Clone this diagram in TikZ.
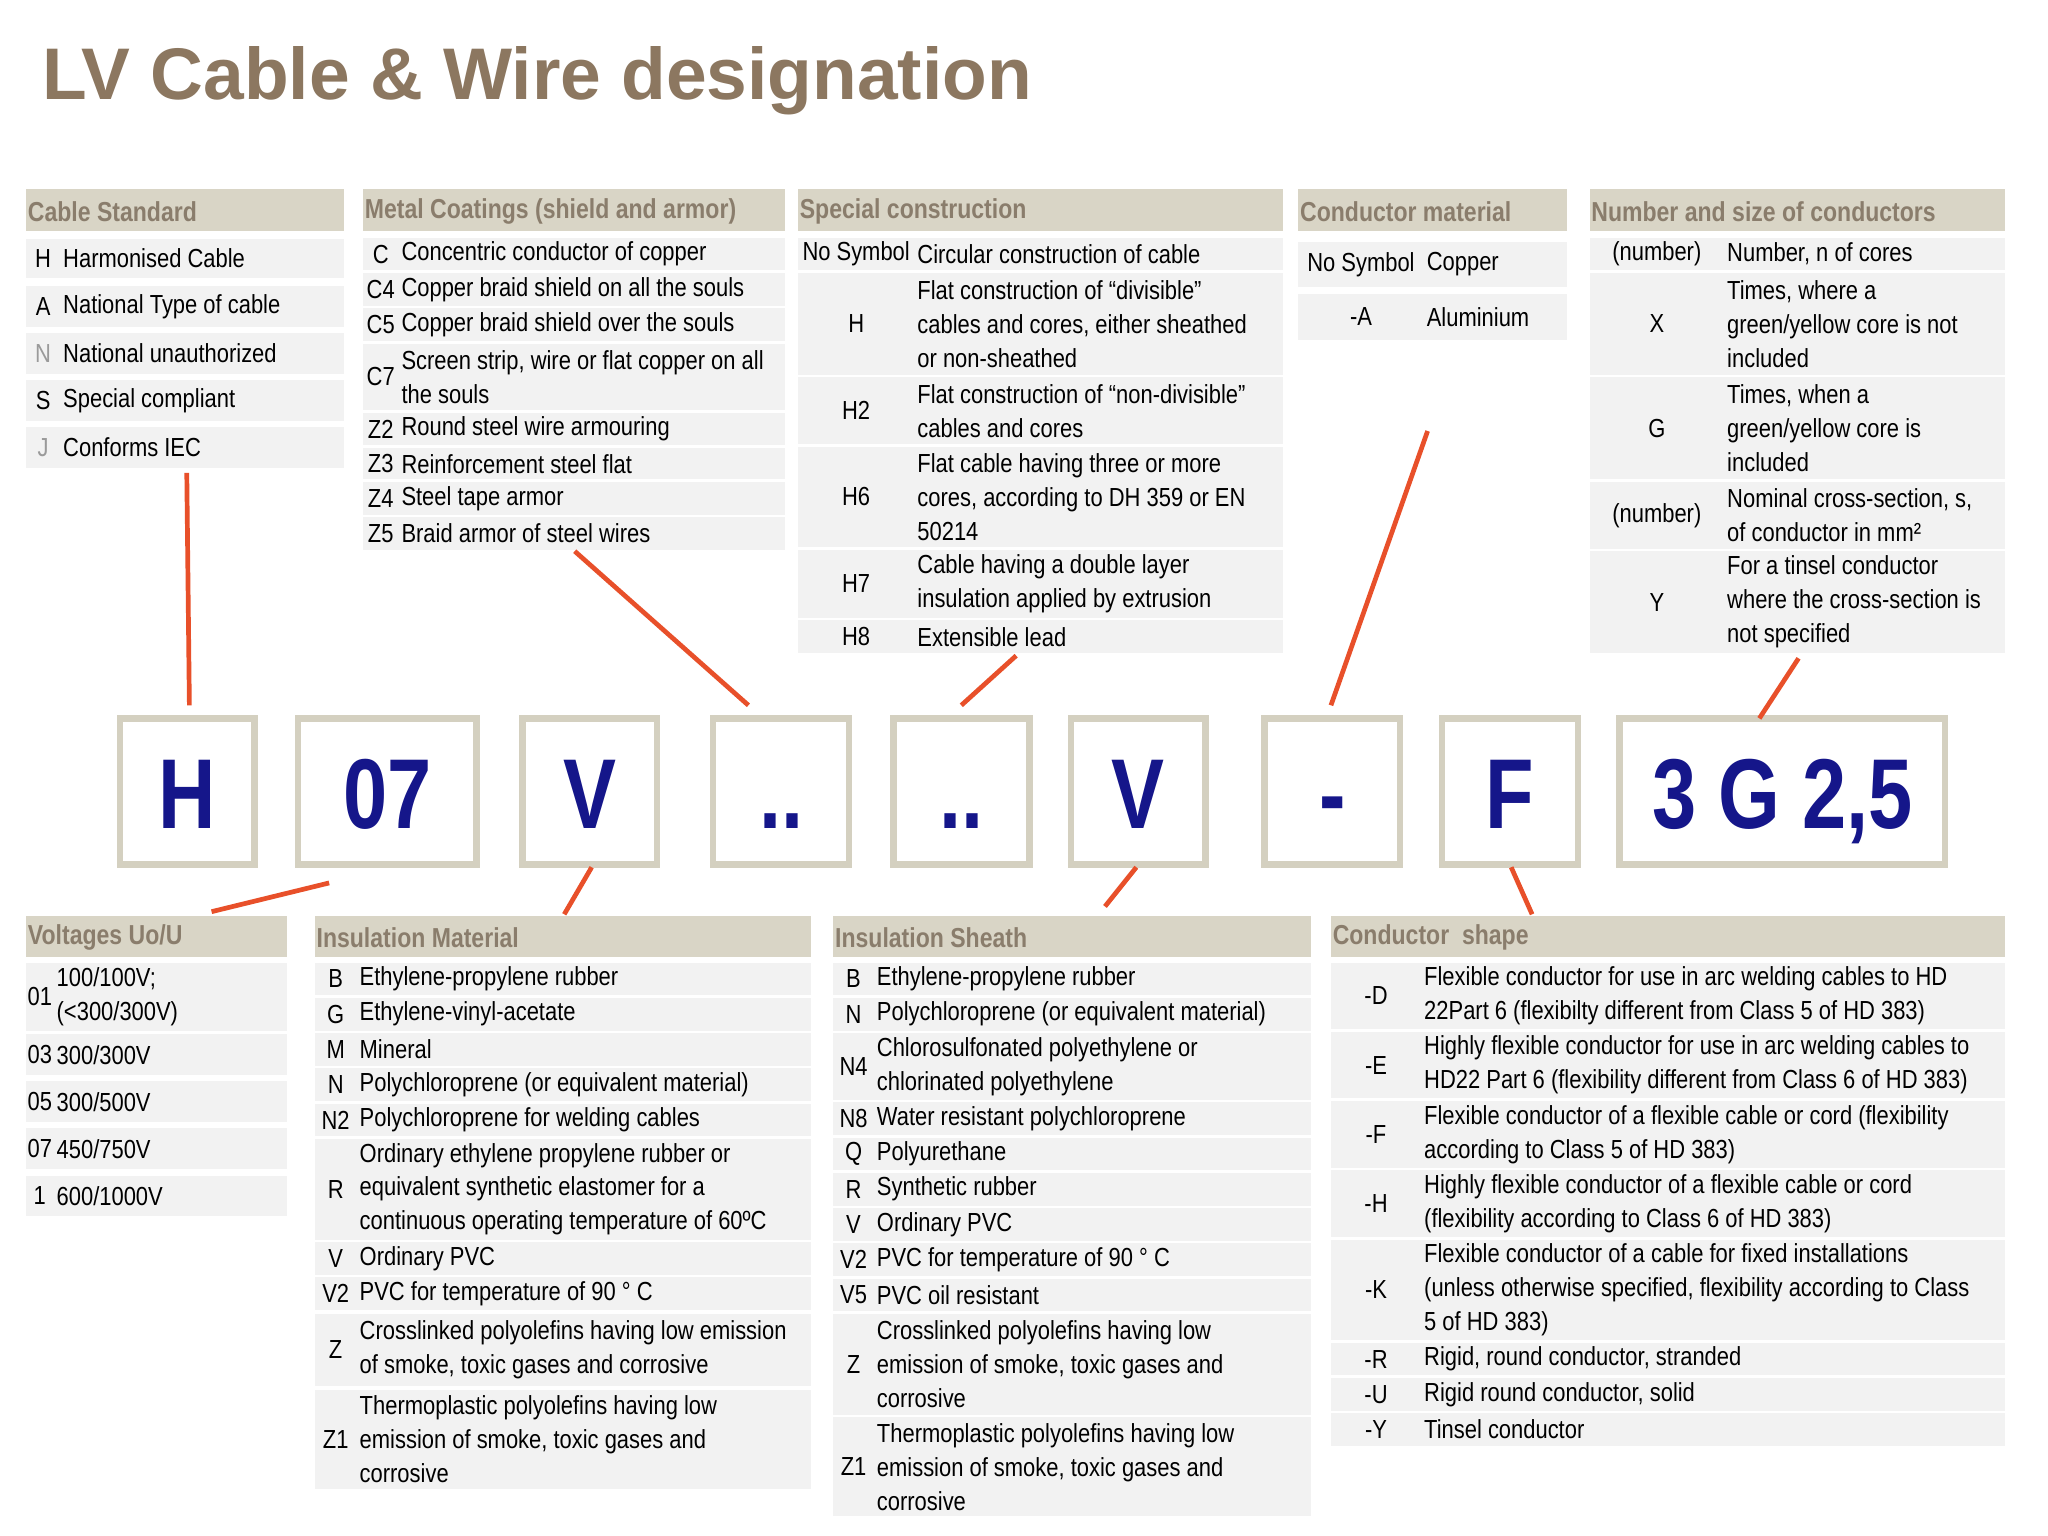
\documentclass[tikz,border=0pt]{standalone}
\usepackage{fontspec}
\setmainfont{Liberation Sans}[FakeStretch=0.84]
\newfontfamily\titlefont{Liberation Sans}
\newfontfamily\bigfont{Liberation Sans}[FakeStretch=0.8]
\hyphenpenalty=10000 \exhyphenpenalty=10000
\definecolor{hdr}{HTML}{D9D5C6}
\definecolor{hdrtxt}{HTML}{8A7D6C}
\definecolor{rowc}{HTML}{F2F2F2}
\definecolor{ttl}{HTML}{8C7760}
\definecolor{navy}{HTML}{15168A}
\definecolor{boxb}{HTML}{D4D0C0}
\definecolor{ln}{HTML}{E8502A}
\definecolor{gr}{HTML}{9A9A9A}
\tikzset{
 codet/.style={inner sep=0pt,font=\fontsize{10}{13}\selectfont,align=center},
 desc/.style={inner sep=0pt,anchor=west,font=\fontsize{10}{13}\selectfont,align=left},
 hdrt/.style={inner sep=0pt,anchor=west,font=\fontsize{10.5}{13}\selectfont\bfseries,text=hdrtxt},
 cbox/.style={draw=boxb,line width=2.5pt,fill=white,inner sep=0pt,text=navy,text height=34pt,text depth=6pt,font=\bigfont\fontsize{38}{40}\selectfont\bfseries},
 conn/.style={draw=ln,line width=1.8pt}
}
\newcommand\trow[7]{%
 \fill[rowc] (#1,#4) rectangle (#3,#5);
 \node[codet] at ({(#1+#2)/2},{(#4+#5)/2}) {#6};
 \node[desc] at (#2+2,{(#4+#5)/2}) {#7};}
\newcommand\thdr[4]{%
 \fill[hdr] (#1,145) rectangle (#2,177);
 \node[hdrt] at (#1+1,162) {#3};}
\newcommand\bhdr[3]{%
 \fill[hdr] (#1,701) rectangle (#2,733);
 \node[hdrt] at (#1+1,718) {#3};}
\begin{document}
\begin{tikzpicture}[x=0.5pt,y=-0.5pt]
\useasboundingbox (0,0) rectangle (1568,1176);
\fill[white] (0,0) rectangle (1568,1176);
\node[anchor=base west,inner sep=0pt,text=ttl,font=\titlefont\fontsize{28}{30}\selectfont\bfseries] (title) at (32,76) {LV Cable \& Wire designation};
% Cable standard
\thdr{20}{263}{Cable Standard}{}
\trow{20}{46}{263}{183}{213}{H}{Harmonised Cable}
\trow{20}{46}{263}{219}{250}{A}{National Type of cable}
\trow{20}{46}{263}{255}{286}{\color{gr}N}{National unauthorized}
\trow{20}{46}{263}{291}{322}{S}{Special compliant}
\trow{20}{46}{263}{327}{358}{\color{gr}J}{Conforms IEC}
% Metal coatings
\thdr{278}{601}{Metal Coatings (shield and armor)}{}
\trow{278}{305}{601}{182}{207}{C}{Concentric conductor of copper}
\trow{278}{305}{601}{209}{234}{C4}{Copper braid shield on all the souls}
\trow{278}{305}{601}{236}{261}{C5}{Copper braid shield over the souls}
\trow{278}{305}{601}{263}{314}{C7}{Screen strip, wire or flat copper on all\\the souls}
\trow{278}{305}{601}{316}{341}{Z2}{Round steel wire armouring}
\trow{278}{305}{601}{343}{367}{Z3}{Reinforcement steel flat}
\trow{278}{305}{601}{369}{394}{Z4}{Steel tape armor}
\trow{278}{305}{601}{396}{421}{Z5}{Braid armor of steel wires}
% Special construction
\thdr{611}{982}{Special construction}{}
\trow{611}{700}{982}{182}{207}{No Symbol}{Circular construction of cable}
\trow{611}{700}{982}{209}{287}{H}{Flat construction of “divisible”\\cables and cores, either sheathed\\or non-sheathed}
\trow{611}{700}{982}{289}{340}{H2}{Flat construction of “non-divisible”\\cables and cores}
\trow{611}{700}{982}{342}{419}{H6}{Flat cable having three or more\\cores, according to DH 359 or EN\\50214}
\trow{611}{700}{982}{421}{473}{H7}{Cable having a double layer\\insulation applied by extrusion}
\trow{611}{700}{982}{475}{500}{H8}{Extensible lead}
% Conductor material
\thdr{994}{1200}{Conductor material}{}
\trow{994}{1090}{1200}{185}{220}{No Symbol}{Copper}
\trow{994}{1090}{1200}{225}{260}{-A}{Aluminium}
% Number and size
\thdr{1217}{1535}{Number and size of conductors}{}
\trow{1217}{1320}{1535}{182}{207}{(number)}{Number, n of cores}
\trow{1217}{1320}{1535}{209}{287}{X}{Times, where a\\green/yellow core is not\\included}
\trow{1217}{1320}{1535}{289}{367}{G}{Times, when a\\green/yellow core is\\included}
\trow{1217}{1320}{1535}{369}{420}{(number)}{Nominal cross-section, s,\\of conductor in mm²}
\trow{1217}{1320}{1535}{422}{500}{Y}{For a tinsel conductor\\where the cross-section is\\not specified}
% code boxes
\node[cbox,minimum width=51.5pt,minimum height=56pt] (bH) at (143.5,606) {H};
\node[cbox,minimum width=68.5pt,minimum height=56pt] (b07) at (296.5,606) {07};
\node[cbox,minimum width=51.5pt,minimum height=56pt] (bV1) at (451.5,606) {V};
\node[cbox,minimum width=52pt,minimum height=56pt] (bD1) at (598,606) {..};
\node[cbox,minimum width=52pt,minimum height=56pt] (bD2) at (736,606) {..};
\node[cbox,minimum width=51.5pt,minimum height=56pt] (bV2) at (871.5,606) {V};
\node[cbox,minimum width=52pt,minimum height=56pt] (bM) at (1020,606) {-};
\node[cbox,minimum width=52pt,minimum height=56pt] (bF) at (1156,606) {F};
\node[cbox,minimum width=124.5pt,minimum height=56pt] (bN) at (1364.5,606) {3 G 2,5};
% connectors
\coordinate (t1) at (143,362); \coordinate (e1) at (145,540);
\coordinate (t2) at (440,422); \coordinate (e2) at (573,540);
\coordinate (t3) at (778,502); \coordinate (e3) at (736,540);
\coordinate (t4) at (1093,330); \coordinate (e4) at (1019,540);
\coordinate (t5) at (1377,504); \coordinate (e5) at (1347,550);
\coordinate (u1) at (252,676); \coordinate (f1) at (162,698);
\coordinate (u2) at (453,664); \coordinate (f2) at (432,700);
\coordinate (u3) at (870,664); \coordinate (f3) at (846,694);
\coordinate (u4) at (1157,664); \coordinate (f4) at (1173,700);
\foreach \a/\b in {t1/e1,t2/e2,t3/e3,t4/e4,t5/e5,u1/f1,u2/f2,u3/f3,u4/f4} \draw[conn] (\a) -- (\b);
% Voltages
\bhdr{20}{220}{Voltages Uo/U}
\trow{20}{41}{220}{737}{789}{01}{100/100V;\\(<300/300V)}
\trow{20}{41}{220}{792}{823}{03}{300/300V}
\trow{20}{41}{220}{828}{859}{05}{300/500V}
\trow{20}{41}{220}{864}{895}{07}{450/750V}
\trow{20}{41}{220}{900}{931}{1}{600/1000V}
% Insulation material
\bhdr{241}{621}{Insulation Material}
\trow{241}{273}{621}{737}{762}{B}{Ethylene-propylene rubber}
\trow{241}{273}{621}{764}{789}{G}{Ethylene-vinyl-acetate}
\trow{241}{273}{621}{791}{816}{M}{Mineral}
\trow{241}{273}{621}{818}{843}{N}{Polychloroprene (or equivalent material)}
\trow{241}{273}{621}{845}{870}{N2}{Polychloroprene for welding cables}
\trow{241}{273}{621}{872}{949}{R}{Ordinary ethylene propylene rubber or\\equivalent synthetic elastomer for a\\continuous operating temperature of 60ºC}
\trow{241}{273}{621}{951}{976}{V}{Ordinary PVC}
\trow{241}{273}{621}{978}{1003}{V2}{PVC for temperature of 90 ° C}
\trow{241}{273}{621}{1006}{1061}{Z}{Crosslinked polyolefins having low emission\\of smoke, toxic gases and corrosive}
\trow{241}{273}{621}{1064}{1140}{Z1}{Thermoplastic polyolefins having low\\emission of smoke, toxic gases and\\corrosive}
% Insulation sheath
\bhdr{638}{1004}{Insulation Sheath}
\trow{638}{669}{1004}{737}{762}{B}{Ethylene-propylene rubber}
\trow{638}{669}{1004}{764}{789}{N}{Polychloroprene (or equivalent material)}
\trow{638}{669}{1004}{791}{842}{N4}{Chlorosulfonated polyethylene or\\chlorinated polyethylene}
\trow{638}{669}{1004}{844}{869}{N8}{Water resistant polychloroprene}
\trow{638}{669}{1004}{871}{896}{Q}{Polyurethane}
\trow{638}{669}{1004}{898}{923}{R}{Synthetic rubber}
\trow{638}{669}{1004}{925}{950}{V}{Ordinary PVC}
\trow{638}{669}{1004}{952}{977}{V2}{PVC for temperature of 90 ° C}
\trow{638}{669}{1004}{979}{1004}{V5}{PVC oil resistant}
\trow{638}{669}{1004}{1006}{1083}{Z}{Crosslinked polyolefins having low\\emission of smoke, toxic gases and\\corrosive}
\trow{638}{669}{1004}{1085}{1161}{Z1}{Thermoplastic polyolefins having low\\emission of smoke, toxic gases and\\corrosive}
% Conductor shape
\bhdr{1019}{1535}{Conductor\ \ shape}
\trow{1019}{1088}{1535}{737}{788}{-D}{Flexible conductor for use in arc welding cables to HD\\22Part 6 (flexibilty different from Class 5 of HD 383)}
\trow{1019}{1088}{1535}{790}{841}{-E}{Highly flexible conductor for use in arc welding cables to\\HD22 Part 6 (flexibility different from Class 6 of HD 383)}
\trow{1019}{1088}{1535}{843}{894}{-F}{Flexible conductor of a flexible cable or cord (flexibility\\according to Class 5 of HD 383)}
\trow{1019}{1088}{1535}{896}{947}{-H}{Highly flexible conductor of a flexible cable or cord\\(flexibility according to Class 6 of HD 383)}
\trow{1019}{1088}{1535}{949}{1026}{-K}{Flexible conductor of a cable for fixed installations\\(unless otherwise specified, flexibility according to Class\\5 of HD 383)}
\trow{1019}{1088}{1535}{1028}{1053}{-R}{Rigid, round conductor, stranded}
\trow{1019}{1088}{1535}{1055}{1080}{-U}{Rigid round conductor, solid}
\trow{1019}{1088}{1535}{1082}{1107}{-Y}{Tinsel conductor}
\end{tikzpicture}
\end{document}
